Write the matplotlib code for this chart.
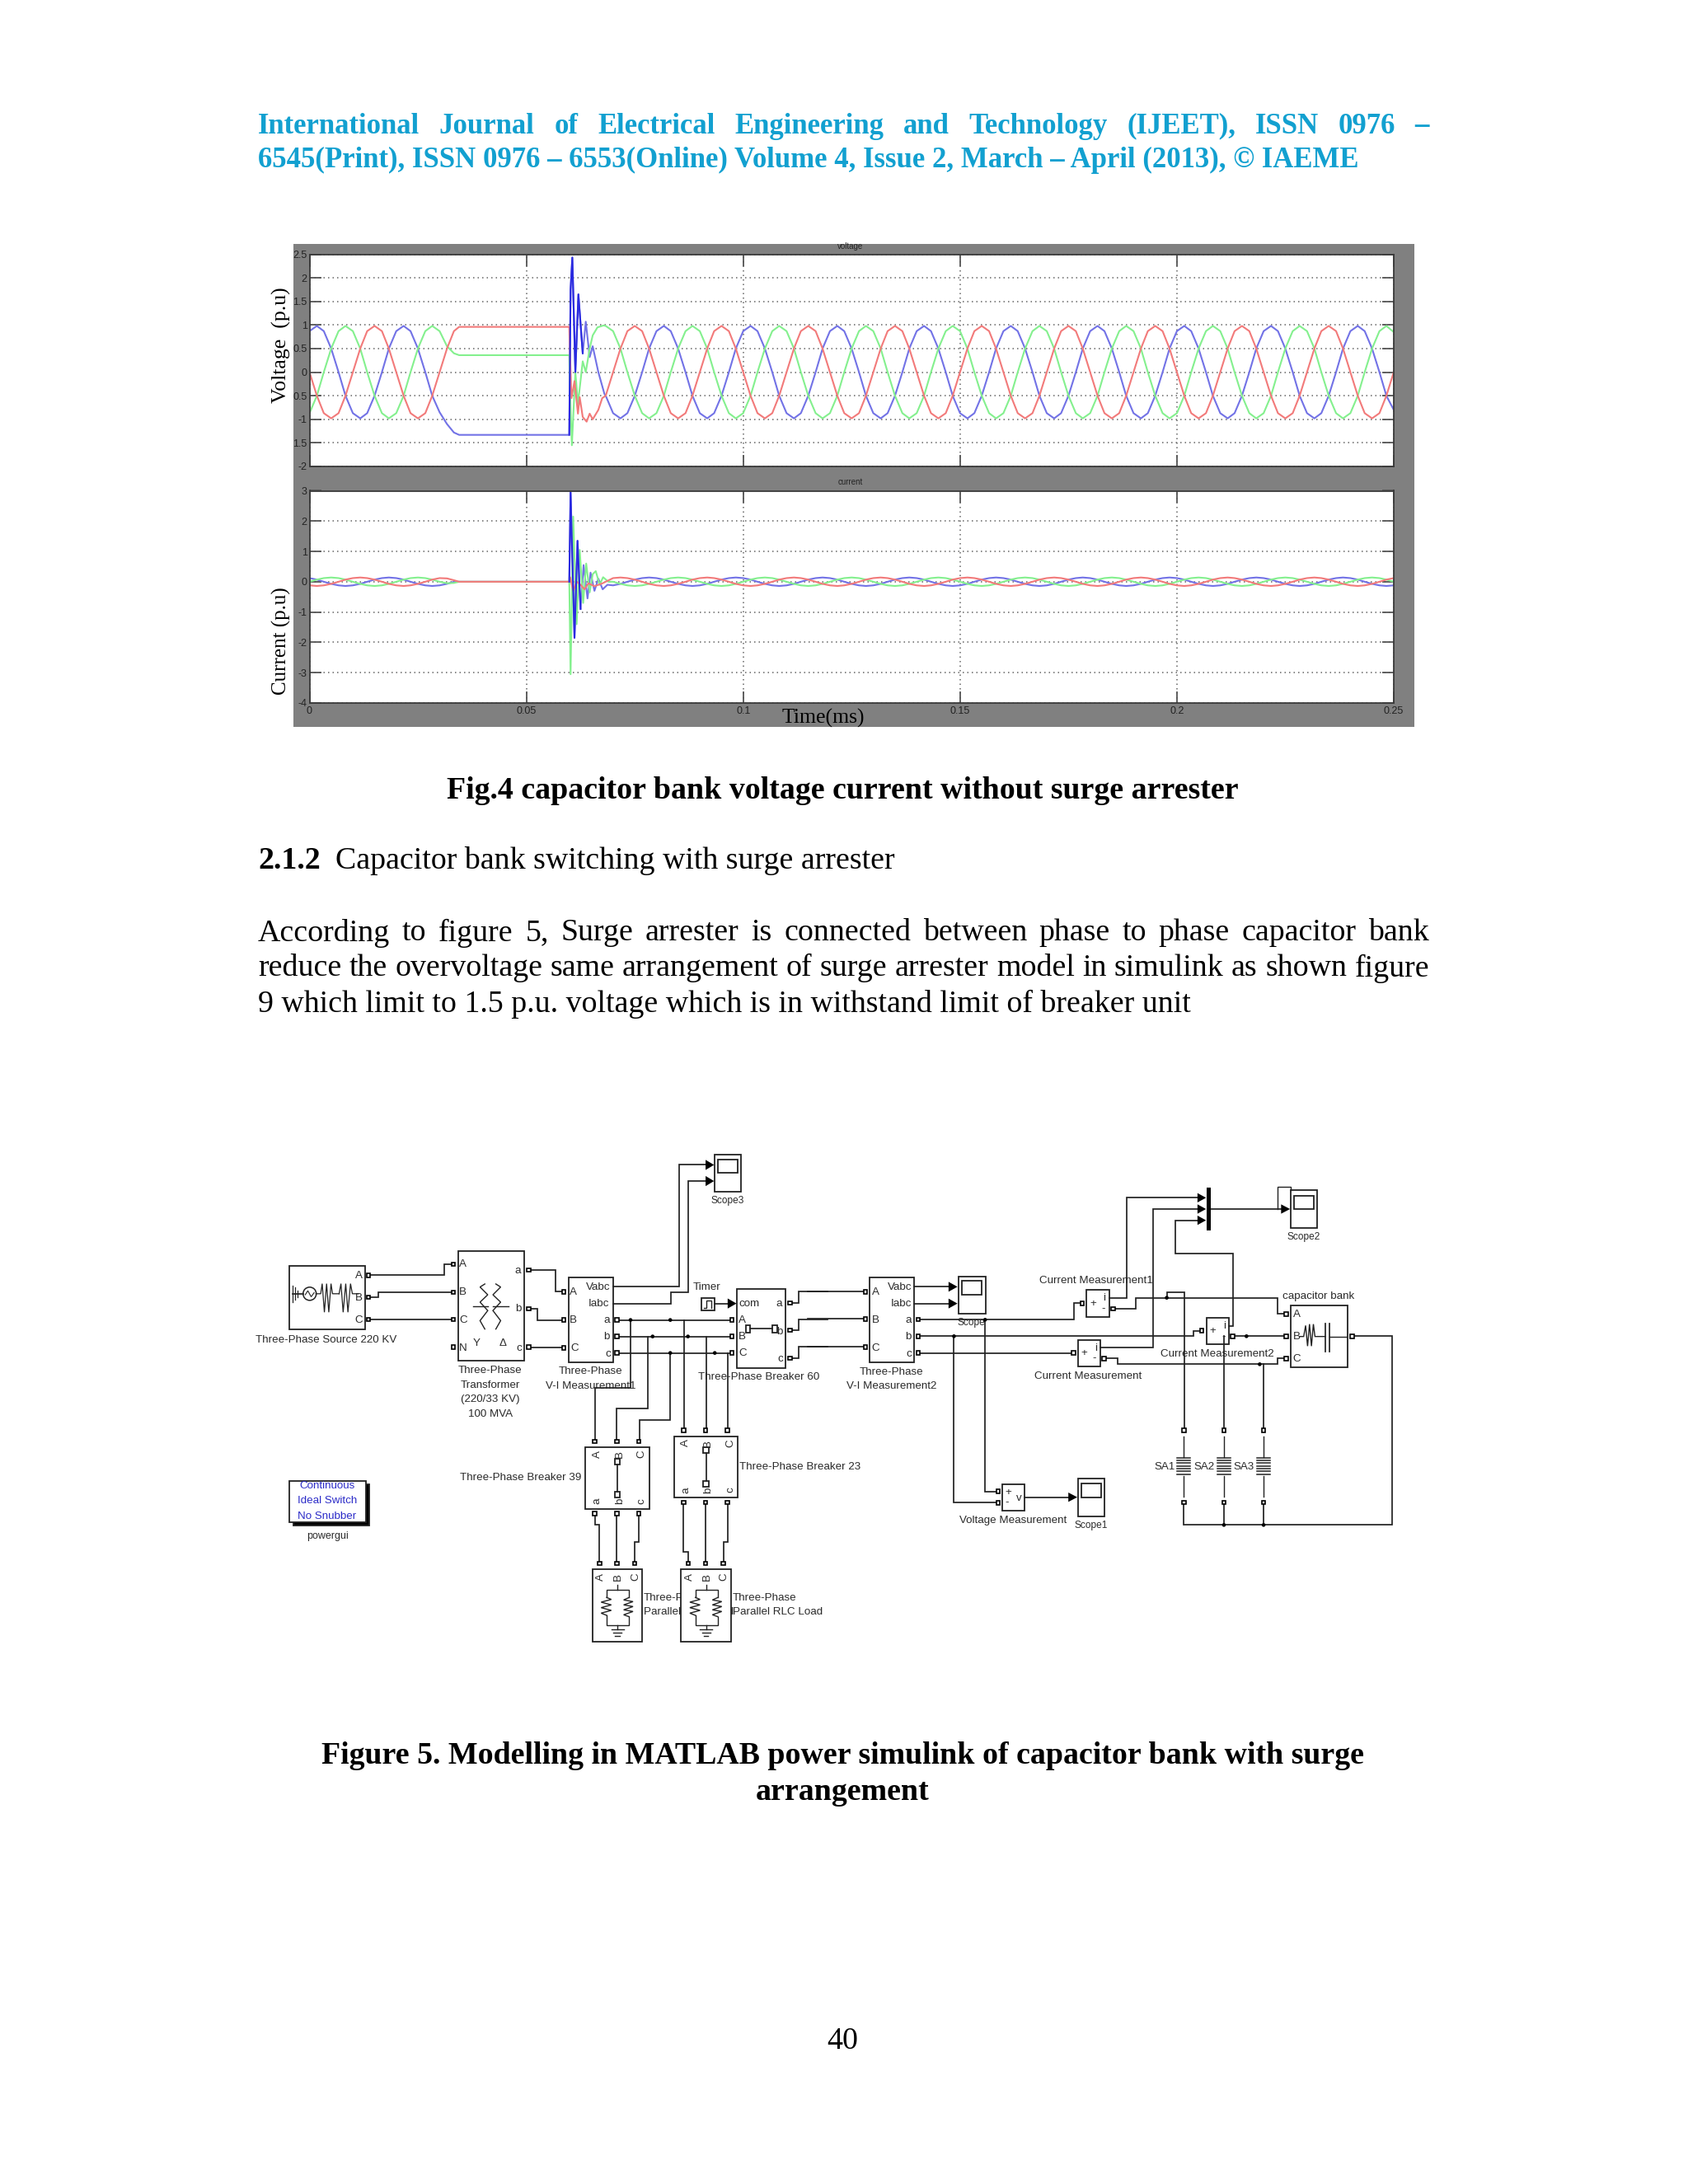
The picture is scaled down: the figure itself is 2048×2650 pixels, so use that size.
#!/usr/bin/env python3
"""Journal page: capacitor bank scope traces and the Simulink model of Figure 5."""

import matplotlib

matplotlib.use("Agg")
import matplotlib.pyplot as plt
from matplotlib.patches import Circle, Polygon, Rectangle

W, H = 2048, 2650

# --- scope data ------------------------------------------------------------
x_ticks = [0, 0.05, 0.1, 0.15, 0.2, 0.25]
x_tick_labels = ["0", "0.05", "0.1", "0.15", "0.2", "0.25"]
v_ticks = [2.5, 2, 1.5, 1, 0.5, 0, -0.5, -1, -1.5, -2]
v_tick_labels = ["2.5", "2", "1.5", "1", "0.5", "0", "0.5", "-1", "1.5", "-2"]
i_ticks = [3, 2, 1, 0, -1, -2, -3, -4]
i_tick_labels = ["3", "2", "1", "0", "-1", "-2", "-3", "-4"]

t_pre = [0, 0.0017, 0.0033, 0.005, 0.0067, 0.0083, 0.01, 0.0117, 0.0133, 0.015, 0.0167,
         0.0183, 0.02, 0.0217, 0.0233, 0.025, 0.0267, 0.0283, 0.03, 0.0317, 0.0333, 0.0345]
v_blue_pre = [0.87, 0.98, 0.87, 0.5, 0, -0.5, -0.87, -0.98, -0.87, -0.5, 0,
              0.5, 0.87, 0.98, 0.87, 0.5, 0, -0.5, -0.85, -1.1, -1.28, -1.33]
v_green_pre = [-0.87, -0.5, 0, 0.5, 0.87, 0.98, 0.87, 0.5, 0, -0.5, -0.87,
               -0.98, -0.87, -0.5, 0, 0.5, 0.87, 0.98, 0.87, 0.55, 0.4, 0.36]
v_red_pre = [0, -0.5, -0.87, -0.98, -0.87, -0.5, 0, 0.5, 0.87, 0.98, 0.87,
             0.5, 0, -0.5, -0.87, -0.98, -0.87, -0.5, 0, 0.5, 0.87, 0.96]
i_blue_pre = [0.12, 0.07, 0, -0.07, -0.12, -0.14, -0.12, -0.07, 0, 0.07, 0.12,
              0.14, 0.12, 0.07, 0, -0.07, -0.12, -0.14, -0.12, -0.07, 0, 0]
i_green_pre = [0, 0.07, 0.12, 0.14, 0.12, 0.07, 0, -0.07, -0.12, -0.14, -0.12,
               -0.07, 0, 0.07, 0.12, 0.14, 0.12, 0.07, 0, -0.05, -0.04, 0]
i_red_pre = [-0.12, -0.14, -0.12, -0.07, 0, 0.07, 0.12, 0.14, 0.12, 0.07, 0,
             -0.07, -0.12, -0.14, -0.12, -0.07, 0, 0.07, 0.12, 0.11, 0.05, 0]

# switching transient, each phase read on its own times
tv_blue = [0.0599, 0.0602, 0.0606, 0.0613, 0.062, 0.063, 0.0637, 0.0646, 0.0653, 0.0666, 0.068]
v_blue = [-1.33, 1.75, 2.43, 0, 1.65, 0.4, 1.07, 0.32, 0.55, 0, -0.46]
tv_green = [0.0599, 0.0601, 0.0605, 0.0613, 0.0619, 0.063, 0.0637, 0.0646, 0.0653, 0.0664, 0.0678]
v_green = [0.36, -0.5, -1.55, 0, -0.67, 0.23, 0, 0.5, 0.78, 0.95, 0.99]
tv_red = [0.0599, 0.0601, 0.0604, 0.0611, 0.0619, 0.0623, 0.063, 0.0639, 0.0646, 0.0653, 0.0666, 0.0675]
v_red = [0.96, 0.3, -0.55, -0.19, -0.88, -0.53, -0.95, -1.05, -0.88, -1.0, -0.8, -0.55]

ti_blue = [0.0599, 0.0602, 0.0611, 0.0618, 0.0625, 0.0632, 0.0641, 0.0648, 0.0657, 0.0666, 0.0676, 0.0687]
i_blue = [0, 2.95, -1.85, 1.35, -0.9, 0.55, -0.55, 0.3, -0.3, 0.1, -0.25, -0.1]
ti_green = [0.0599, 0.0602, 0.0608, 0.0616, 0.0623, 0.0631, 0.0638, 0.0646, 0.0653, 0.066, 0.0669, 0.0677, 0.0689]
i_green = [0, -3.05, 2.15, -1.4, 1.05, -0.7, 0.6, -0.35, 0.25, 0.35, -0.1, 0.15, 0]
ti_red = [0.0599, 0.0601, 0.0608, 0.0616, 0.0625, 0.0634, 0.0643, 0.0657, 0.0676]
i_red = [0, 0.15, -0.3, 0, -0.1, -0.25, -0.05, -0.15, -0.05]

t_post = [0.0683, 0.07, 0.0717, 0.0733, 0.075, 0.0767, 0.0783,
          0.08, 0.0817, 0.0833, 0.085, 0.0867, 0.0883, 0.09, 0.0917, 0.0933, 0.095, 0.0967, 0.0983,
          0.1, 0.1017, 0.1033, 0.105, 0.1067, 0.1083, 0.11, 0.1117, 0.1133, 0.115, 0.1167, 0.1183,
          0.12, 0.1217, 0.1233, 0.125, 0.1267, 0.1283, 0.13, 0.1317, 0.1333, 0.135, 0.1367, 0.1383,
          0.14, 0.1417, 0.1433, 0.145, 0.1467, 0.1483, 0.15, 0.1517, 0.1533, 0.155, 0.1567, 0.1583,
          0.16, 0.1617, 0.1633, 0.165, 0.1667, 0.1683, 0.17, 0.1717, 0.1733, 0.175, 0.1767, 0.1783,
          0.18, 0.1817, 0.1833, 0.185, 0.1867, 0.1883, 0.19, 0.1917, 0.1933, 0.195, 0.1967, 0.1983,
          0.2, 0.2017, 0.2033, 0.205, 0.2067, 0.2083, 0.21, 0.2117, 0.2133, 0.215, 0.2167, 0.2183,
          0.22, 0.2217, 0.2233, 0.225, 0.2267, 0.2283, 0.23, 0.2317, 0.2333, 0.235, 0.2367, 0.2383,
          0.24, 0.2417, 0.2433, 0.245, 0.2467, 0.2483, 0.25]
v_blue_post = [-0.5, -0.87, -0.98, -0.87, -0.5, 0, 0.5,
               0.87, 0.98, 0.87, 0.5, 0, -0.5, -0.87, -0.98, -0.87, -0.5, 0, 0.5,
               0.87, 0.98, 0.87, 0.5, 0, -0.5, -0.87, -0.98, -0.87, -0.5, 0, 0.5,
               0.87, 0.98, 0.87, 0.5, 0, -0.5, -0.87, -0.98, -0.87, -0.5, 0, 0.5,
               0.87, 0.98, 0.87, 0.5, 0, -0.5, -0.87, -0.98, -0.87, -0.5, 0, 0.5,
               0.87, 0.98, 0.87, 0.5, 0, -0.5, -0.87, -0.98, -0.87, -0.5, 0, 0.5,
               0.87, 0.98, 0.87, 0.5, 0, -0.5, -0.87, -0.98, -0.87, -0.5, 0, 0.5,
               0.87, 0.98, 0.87, 0.5, 0, -0.5, -0.87, -0.98, -0.87, -0.5, 0, 0.5,
               0.87, 0.98, 0.87, 0.5, 0, -0.5, -0.87, -0.98, -0.87, -0.5, 0, 0.5,
               0.87, 0.98, 0.87, 0.5, 0, -0.5, -0.8]
v_green_post = [0.98, 0.87, 0.5, 0, -0.5, -0.87, -0.98,
                -0.87, -0.5, 0, 0.5, 0.87, 0.98, 0.87, 0.5, 0, -0.5, -0.87, -0.98,
                -0.87, -0.5, 0, 0.5, 0.87, 0.98, 0.87, 0.5, 0, -0.5, -0.87, -0.98,
                -0.87, -0.5, 0, 0.5, 0.87, 0.98, 0.87, 0.5, 0, -0.5, -0.87, -0.98,
                -0.87, -0.5, 0, 0.5, 0.87, 0.98, 0.87, 0.5, 0, -0.5, -0.87, -0.98,
                -0.87, -0.5, 0, 0.5, 0.87, 0.98, 0.87, 0.5, 0, -0.5, -0.87, -0.98,
                -0.87, -0.5, 0, 0.5, 0.87, 0.98, 0.87, 0.5, 0, -0.5, -0.87, -0.98,
                -0.87, -0.5, 0, 0.5, 0.87, 0.98, 0.87, 0.5, 0, -0.5, -0.87, -0.98,
                -0.87, -0.5, 0, 0.5, 0.87, 0.98, 0.87, 0.5, 0, -0.5, -0.87, -0.98,
                -0.87, -0.5, 0, 0.5, 0.87, 0.98, 0.85]
v_red_post = [-0.5, 0, 0.5, 0.87, 0.98, 0.87, 0.5,
              0, -0.5, -0.87, -0.98, -0.87, -0.5, 0, 0.5, 0.87, 0.98, 0.87, 0.5,
              0, -0.5, -0.87, -0.98, -0.87, -0.5, 0, 0.5, 0.87, 0.98, 0.87, 0.5,
              0, -0.5, -0.87, -0.98, -0.87, -0.5, 0, 0.5, 0.87, 0.98, 0.87, 0.5,
              0, -0.5, -0.87, -0.98, -0.87, -0.5, 0, 0.5, 0.87, 0.98, 0.87, 0.5,
              0, -0.5, -0.87, -0.98, -0.87, -0.5, 0, 0.5, 0.87, 0.98, 0.87, 0.5,
              0, -0.5, -0.87, -0.98, -0.87, -0.5, 0, 0.5, 0.87, 0.98, 0.87, 0.5,
              0, -0.5, -0.87, -0.98, -0.87, -0.5, 0, 0.5, 0.87, 0.98, 0.87, 0.5,
              0, -0.5, -0.87, -0.98, -0.87, -0.5, 0, 0.5, 0.87, 0.98, 0.87, 0.5,
              0, -0.5, -0.87, -0.98, -0.87, -0.5, 0]
i_blue_post = [-0.12, -0.07, 0, 0.07, 0.12, 0.14,
               0.12, 0.07, 0, -0.07, -0.12, -0.14, -0.12, -0.07, 0, 0.07, 0.12, 0.14,
               0.12, 0.07, 0, -0.07, -0.12, -0.14, -0.12, -0.07, 0, 0.07, 0.12, 0.14,
               0.12, 0.07, 0, -0.07, -0.12, -0.14, -0.12, -0.07, 0, 0.07, 0.12, 0.14,
               0.12, 0.07, 0, -0.07, -0.12, -0.14, -0.12, -0.07, 0, 0.07, 0.12, 0.14,
               0.12, 0.07, 0, -0.07, -0.12, -0.14, -0.12, -0.07, 0, 0.07, 0.12, 0.14,
               0.12, 0.07, 0, -0.07, -0.12, -0.14, -0.12, -0.07, 0, 0.07, 0.12, 0.14,
               0.12, 0.07, 0, -0.07, -0.12, -0.14, -0.12, -0.07, 0, 0.07, 0.12, 0.14,
               0.12, 0.07, 0, -0.07, -0.12, -0.14, -0.12, -0.07, 0, 0.07, 0.12, 0.14,
               0.12, 0.07, 0, -0.07, -0.12, -0.14, -0.12]
i_green_post = [0, -0.07, -0.12, -0.14, -0.12, -0.07,
                0, 0.07, 0.12, 0.14, 0.12, 0.07, 0, -0.07, -0.12, -0.14, -0.12, -0.07,
                0, 0.07, 0.12, 0.14, 0.12, 0.07, 0, -0.07, -0.12, -0.14, -0.12, -0.07,
                0, 0.07, 0.12, 0.14, 0.12, 0.07, 0, -0.07, -0.12, -0.14, -0.12, -0.07,
                0, 0.07, 0.12, 0.14, 0.12, 0.07, 0, -0.07, -0.12, -0.14, -0.12, -0.07,
                0, 0.07, 0.12, 0.14, 0.12, 0.07, 0, -0.07, -0.12, -0.14, -0.12, -0.07,
                0, 0.07, 0.12, 0.14, 0.12, 0.07, 0, -0.07, -0.12, -0.14, -0.12, -0.07,
                0, 0.07, 0.12, 0.14, 0.12, 0.07, 0, -0.07, -0.12, -0.14, -0.12, -0.07,
                0, 0.07, 0.12, 0.14, 0.12, 0.07, 0, -0.07, -0.12, -0.14, -0.12, -0.07,
                0, 0.07, 0.12, 0.14, 0.12, 0.07, 0]
i_red_post = [0.12, 0.14, 0.12, 0.07, 0, -0.07,
              -0.12, -0.14, -0.12, -0.07, 0, 0.07, 0.12, 0.14, 0.12, 0.07, 0, -0.07,
              -0.12, -0.14, -0.12, -0.07, 0, 0.07, 0.12, 0.14, 0.12, 0.07, 0, -0.07,
              -0.12, -0.14, -0.12, -0.07, 0, 0.07, 0.12, 0.14, 0.12, 0.07, 0, -0.07,
              -0.12, -0.14, -0.12, -0.07, 0, 0.07, 0.12, 0.14, 0.12, 0.07, 0, -0.07,
              -0.12, -0.14, -0.12, -0.07, 0, 0.07, 0.12, 0.14, 0.12, 0.07, 0, -0.07,
              -0.12, -0.14, -0.12, -0.07, 0, 0.07, 0.12, 0.14, 0.12, 0.07, 0, -0.07,
              -0.12, -0.14, -0.12, -0.07, 0, 0.07, 0.12, 0.14, 0.12, 0.07, 0, -0.07,
              -0.12, -0.14, -0.12, -0.07, 0, 0.07, 0.12, 0.14, 0.12, 0.07, 0, -0.07,
              -0.12, -0.14, -0.12, -0.07, 0, 0.07, 0.12]

BLUE = "#7272e6"
GREEN = "#84f08e"
RED = "#f27a7a"
DARK_BLUE = "#2a2ae0"
SERIF = "Liberation Serif"
SANS = "Liberation Sans"
HEAD = "#12a0d0"
BODY = 27.25
HEADER = 25

fig = plt.figure(figsize=(W / 100, H / 100), dpi=100, facecolor="white")
page = fig.add_axes([0, 0, 1, 1], zorder=5)
page.set_xlim(0, W)
page.set_ylim(H, 0)
page.axis("off")
page.patch.set_alpha(0)

# grey scope window behind the two axes
bg = fig.add_axes([356 / W, 1 - 882 / H, (1716 - 356) / W, (882 - 296) / H], zorder=1)
bg.set_facecolor("#808080")
bg.set_xticks([])
bg.set_yticks([])
for s in bg.spines.values():
    s.set_visible(False)


def scope_axes(top, bottom, ylim, ticks, labels):
    ax = fig.add_axes([375.5 / W, 1 - bottom / H, (1691 - 375.5) / W, (bottom - top) / H], zorder=2)
    ax.set_xlim(0, 0.25)
    ax.set_ylim(*ylim)
    ax.set_yticks(ticks)
    ax.set_yticklabels(labels, fontsize=9, family=SANS, color="#222222")
    ax.set_xticks(x_ticks)
    ax.grid(True, ls=(0, (1, 2.6)), color="#666666", lw=1.1)
    ax.set_axisbelow(True)
    ax.tick_params(direction="in", length=10, width=1.3, color="#555555", top=True, right=True, pad=2)
    for s in ax.spines.values():
        s.set_color("#3a3a3a")
        s.set_linewidth(1.3)
    return ax


ax_v = scope_axes(308.5, 566, (-2, 2.5), v_ticks, v_tick_labels)
ax_v.set_xticklabels([])
ax_i = scope_axes(595.5, 853, (-4, 3), i_ticks, i_tick_labels)
ax_i.set_xticklabels(x_tick_labels, fontsize=9, family=SANS, color="#222222")
ax_i.tick_params(axis="x", pad=3)

ax_v.plot(t_pre + tv_blue + t_post, v_blue_pre + v_blue + v_blue_post, color=BLUE, lw=1.5)
ax_v.plot(t_pre + tv_green + t_post, v_green_pre + v_green + v_green_post, color=GREEN, lw=1.5)
ax_v.plot(t_pre + tv_red + t_post, v_red_pre + v_red + v_red_post, color=RED, lw=1.5)
ax_i.plot(t_pre + ti_blue + t_post[1:], i_blue_pre + i_blue + i_blue_post, color=BLUE, lw=1.5)
ax_i.plot(t_pre + ti_green + t_post[1:], i_green_pre + i_green + i_green_post, color=GREEN, lw=1.5)
ax_i.plot(t_pre + ti_red + t_post[1:], i_red_pre + i_red + i_red_post, color=RED, lw=1.5)
# the blue spike is much darker where the trace folds back on itself
ax_v.plot(tv_blue[:6], v_blue[:6], color=DARK_BLUE, lw=1.5)
ax_i.plot(ti_blue[:5], i_blue[:5], color=DARK_BLUE, lw=1.5)


def text(x, y, s, size=BODY, weight="normal", color="black", family=SERIF, ha="left", **kw):
    return page.text(x, y, s, fontsize=size, fontweight=weight, color=color, family=family,
                     ha=ha, va="center", **kw)


def justified(y, s, left=313, right=1734, **kw):
    # word by word, the gaps take up whatever the words leave free
    words = s.split()
    renderer = fig.canvas.get_renderer()
    items = [text(0, y, w, **kw) for w in words]
    widths = [t.get_window_extent(renderer).width for t in items]
    gap = (right - left - sum(widths)) / (len(words) - 1)
    x = left
    for item, width in zip(items, widths):
        item.set_x(x)
        x += width + gap


text(1032, 298.5, "voltage", size=7, family=SANS, color="#222222", ha="center")
text(1032, 585, "current", size=7, family=SANS, color="#222222", ha="center")
text(999, 871, "Time(ms)", size=18.5, ha="center")
text(341, 419, "Voltage  (p.u)", size=18.5, rotation=90, ha="center")
text(341, 778, "Current (p.u)", size=18, rotation=90, ha="center")

justified(153, "International Journal of Electrical Engineering and Technology (IJEET), ISSN 0976 –",
          size=HEADER, weight="bold", color=HEAD)
text(313, 194, "6545(Print), ISSN 0976 – 6553(Online) Volume 4, Issue 2, March – April (2013), © IAEME",
     size=HEADER, weight="bold", color=HEAD)
text(1022.5, 959.5, "Fig.4 capacitor bank voltage current without surge arrester", weight="bold", ha="center")
text(313, 1044, "2.1.2", weight="bold")
text(407, 1044, "Capacitor bank switching with surge arrester")
justified(1132, "According to figure 5, Surge arrester is connected between phase to phase capacitor bank")
justified(1175, "reduce the overvoltage same arrangement of surge arrester model in simulink as shown figure")
text(313, 1218, "9 which limit to 1.5 p.u. voltage which is in withstand limit of breaker unit")
text(1022.5, 2131, "Figure 5. Modelling in MATLAB power simulink of capacitor bank with surge", weight="bold", ha="center")
text(1022.5, 2175, "arrangement", weight="bold", ha="center")
text(1022.5, 2477, "40", ha="center")


# --- Simulink model: coordinates are page pixels ---------------------------
def z3(x, y):
    return 290 + x / 2.24, 1380 + y / 2.45


def z4(x, y):
    return 980 + x / 2.119, 1400 + y / 3


def z5(x, y):
    return 640 + x / 3, 1700 + y / 3


INK = "#222222"


def wire(z, pts, lw=1.25, zorder=3):
    xy = [z(*p) for p in pts]
    page.plot([p[0] for p in xy], [p[1] for p in xy], color=INK, lw=lw, zorder=zorder, solid_joinstyle="miter")


def box(z, x0, y0, x1, y1, lw=1.3, zorder=2, fill="none"):
    (a, b), (c, d) = z(x0, y0), z(x1, y1)
    page.add_patch(Rectangle((a, b), c - a, d - b, fc=fill, ec=INK, lw=lw, zorder=zorder))


def port(z, x, y):
    a, b = z(x, y)
    page.add_patch(Rectangle((a - 2.2, b - 2.2), 4.4, 4.4, fc="white", ec="black", lw=1.2, zorder=4))


def ports(z, pts):
    for x, y in pts:
        port(z, x, y)


def dot(z, x, y):
    a, b = z(x, y)
    page.add_patch(Circle((a, b), 2.3, fc="black", ec="none", zorder=4))


def arrow(z, x0, x1, y, half):
    page.add_patch(Polygon([z(x0, y - half), z(x1, y), z(x0, y + half)], fc="black", ec="none", zorder=4))


def label(z, x, y, s, size=9.6, ha="center", color="#2a2a2a", **kw):
    a, b = z(x, y)
    page.text(a, b, s, fontsize=size, family=SANS, color=color, ha=ha, va="center", **kw)


def scope(z, x0, y0, x1, y1, ix0, iy0, ix1, iy1):
    box(z, x0, y0, x1, y1)
    box(z, ix0, iy0, ix1, iy1)


# source and transformer
box(z3, 137, 381, 342, 572)
ports(z3, [(352, 410), (352, 476), (352, 542)])
for y, s in [(412, "A"), (478, "B"), (544, "C")]:
    label(z3, 325, y, s)
wire(z3, [(146, 465), (175, 465)])
for x, half in [(146, 25), (153, 18), (160, 10)]:
    wire(z3, [(x, 465 - half), (x, 465 + half)], lw=0.9)
cx, cy = z3(192, 465)
page.add_patch(Circle((cx, cy), 8, fc="none", ec=INK, lw=1.1))
wire(z3, [(180, 468), (187, 456), (196, 474), (204, 462)], lw=0.8)
wire(z3, [(209, 465), (222, 465), (226, 435), (232, 520), (238, 435), (244, 520), (250, 435), (254, 465), (272, 465)], lw=0.9)
wire(z3, [(272, 465), (277, 435), (283, 520), (290, 435), (296, 520), (303, 435), (308, 465), (325, 465)], lw=0.9)
label(z3, 237, 602, "Three-Phase Source 220 KV")

wire(z3, [(358, 410), (558, 410), (558, 377), (578, 377)])
wire(z3, [(358, 476), (378, 476), (378, 460), (578, 460)])
wire(z3, [(358, 542), (578, 542)])
box(z3, 595, 339, 775, 665)
ports(z3, [(582, 377), (582, 460), (582, 542), (582, 624), (787, 394), (787, 509), (787, 624)])
for x, y, s in [(609, 378, "A"), (609, 461, "B"), (609, 543, "C"), (609, 626, "N"),
                (758, 396, "a"), (758, 510, "b"), (760, 627, "c"), (646, 613, "Y"), (718, 613, "Δ")]:
    label(z3, x, y, s)
wire(z3, [(668, 436), (655, 445), (676, 468), (655, 490), (676, 515), (655, 545), (668, 570)], lw=1)
wire(z3, [(698, 436), (711, 445), (690, 468), (711, 490), (690, 515), (711, 545), (698, 570)], lw=1)
wire(z3, [(637, 503), (676, 503)], lw=1)
wire(z3, [(690, 503), (733, 503)], lw=1)
for y, s in [(694, "Three-Phase"), (737, "Transformer"), (780, "(220/33 KV)"), (822, "100 MVA")]:
    label(z3, 683, y, s)

# first V-I measurement
wire(z3, [(793, 394), (860, 394), (860, 459), (878, 459)])
wire(z3, [(793, 509), (811, 509), (811, 543), (878, 543)])
wire(z3, [(793, 624), (878, 624)])
box(z3, 895, 417, 1017, 668)
ports(z3, [(883, 459), (883, 543), (883, 626), (1027, 543), (1027, 592), (1027, 641)])
for x, y, s in [(909, 461, "A"), (909, 544, "B"), (911, 627, "C"), (977, 445, "Vabc"), (978, 494, "Iabc"),
                (999, 545, "a"), (999, 594, "b"), (1002, 645, "c")]:
    label(z3, x, y, s)
label(z3, 955, 697, "Three-Phase")
label(z3, 955, 740, "V-I Measurement1")

wire(z3, [(1017, 444), (1197, 444), (1197, 82), (1270, 82)])
wire(z3, [(1017, 494), (1173, 494), (1173, 460), (1221, 460), (1221, 130), (1270, 130)])
arrow(z3, 1268, 1291, 82, 15)
arrow(z3, 1268, 1291, 130, 15)
scope(z3, 1293, 52, 1365, 161, 1302, 65, 1356, 105)
label(z3, 1328, 188, "Scope3", size=8.6)

# timer and breaker 60
label(z3, 1271, 447, "Timer")
box(z3, 1257, 477, 1293, 514)
wire(z3, [(1263, 507), (1271, 507), (1271, 484), (1284, 484), (1284, 507)], lw=1)
wire(z3, [(1293, 494), (1330, 494)])
arrow(z3, 1328, 1352, 494, 15)
box(z3, 1353, 450, 1485, 685)
ports(z3, [(1340, 543), (1340, 592), (1340, 641), (1497, 492), (1497, 574), (1497, 656)])
for x, y, s in [(1386, 495, "com"), (1468, 496, "a"), (1368, 543, "A"), (1469, 578, "b"),
                (1368, 594, "B"), (1370, 642, "C"), (1471, 660, "c")]:
    label(z3, x, y, s)
box(z3, 1377, 558, 1389, 580)
box(z3, 1450, 558, 1462, 580)
wire(z3, [(1389, 569), (1450, 569)])
label(z3, 1248, 714, "Three-Phase Breaker 60", ha="left")

wire(z3, [(1033, 543), (1334, 543)])
wire(z3, [(1033, 592), (1334, 592)])
wire(z3, [(1033, 641), (1334, 641)])
for x, y in [(1064, 543), (1172, 543), (1124, 592), (1220, 592), (1172, 641), (1293, 641)]:
    dot(z3, x, y)
wire(z3, [(1064, 543), (1064, 745), (967, 745), (967, 898)])
wire(z3, [(1112, 592), (1112, 806), (1027, 806), (1027, 898)])
wire(z3, [(1172, 641), (1172, 840), (1088, 840), (1088, 898)])
wire(z3, [(1209, 543), (1209, 866)])
wire(z3, [(1269, 592), (1269, 866)])
wire(z3, [(1329, 641), (1329, 866)])
wire(z3, [(1503, 492), (1522, 492), (1522, 459), (1600, 459)])
wire(z3, [(1503, 574), (1522, 574), (1522, 541), (1600, 541)])
wire(z3, [(1503, 656), (1522, 656), (1522, 623), (1600, 623)])


# breakers 39 and 23
def breaker(z, dx, dy):
    box(z, 210 + dx, 168 + dy, 443 + dx, 392 + dy)
    for x, s in [(254, "A"), (335, "B"), (415, "C")]:
        label(z, x + dx, 193 + dy, s, size=9.6, rotation=90)
    for x, s in [(254, "a"), (335, "b"), (415, "c")]:
        label(z, x + dx, 364 + dy, s, size=9.6, rotation=90)
    box(z, 317 + dx, 209 + dy, 337 + dx, 230 + dy)
    box(z, 317 + dx, 330 + dy, 337 + dx, 351 + dy)
    wire(z, [(327 + dx, 230 + dy), (327 + dx, 330 + dy)])
    ports(z, [(245 + dx, 147 + dy), (325 + dx, 147 + dy), (405 + dx, 147 + dy),
              (245 + dx, 409 + dy), (325 + dx, 409 + dy), (405 + dx, 409 + dy)])


breaker(z5, 0, 0)
breaker(z5, 323, -40)
label(z3, 600, 1013, "Three-Phase Breaker 39", ha="left")
label(z5, 770, 240, "Three-Phase Breaker 23", ha="left")

wire(z5, [(245, 417), (245, 450), (262, 450), (262, 584)])
wire(z5, [(325, 417), (325, 584)])
wire(z5, [(405, 417), (405, 512), (390, 512), (390, 584)])
wire(z5, [(568, 377), (568, 550), (584, 550), (584, 584)])
wire(z5, [(648, 377), (648, 584)])
wire(z5, [(729, 377), (729, 512), (713, 512), (713, 584)])


# RLC loads
def load(z, dx):
    box(z, 236 + dx, 612, 418 + dx, 876, zorder=3, fill="white")
    for x, s in [(267, "A"), (330, "B"), (393, "C")]:
        label(z, x + dx, 640, s, size=9.6, rotation=90, zorder=4)
    ports(z, [(262 + dx, 591), (325 + dx, 591), (390 + dx, 591)])
    wire(z, [(288 + dx, 715), (288 + dx, 688), (370 + dx, 688), (370 + dx, 715)], lw=1, zorder=4)
    wire(z, [(288 + dx, 780), (288 + dx, 815), (370 + dx, 815), (370 + dx, 785)], lw=1, zorder=4)
    wire(z, [(327 + dx, 670), (327 + dx, 688)], lw=1, zorder=4)
    wire(z, [(327 + dx, 815), (327 + dx, 830)], lw=1, zorder=4)
    wire(z, [(288 + dx, 715), (305 + dx, 722), (268 + dx, 732), (305 + dx, 742), (268 + dx, 752),
             (305 + dx, 762), (268 + dx, 772), (288 + dx, 780)], lw=1, zorder=4)
    wire(z, [(370 + dx, 715), (350 + dx, 724), (384 + dx, 730), (350 + dx, 742), (384 + dx, 748),
             (350 + dx, 760), (384 + dx, 766), (350 + dx, 778), (370 + dx, 785)], lw=1, zorder=4)
    for y, a, b in [(830, 305, 350), (842, 312, 343), (855, 318, 335)]:
        wire(z, [(a + dx, y), (b + dx, y)], lw=1, zorder=4)


label(z5, 423, 716, "Three-Phase", ha="left")
label(z5, 423, 768, "Parallel RLC Load", ha="left")
load(z5, 0)
load(z5, 323)
label(z5, 746, 716, "Three-Phase", ha="left")
label(z5, 746, 768, "Parallel RLC Load", ha="left")

# powergui
box(z3, 147, 1031, 353, 1154, zorder=2, fill="black")
box(z3, 137, 1021, 345, 1143, zorder=3, fill="white")
for y, s in [(1036, "Continuous"), (1080, "Ideal Switch"), (1126, "No Snubber")]:
    label(z3, 239, y, s, color="#2c2cc8", zorder=4)
label(z3, 241, 1186, "powergui", size=9)

# second V-I measurement
box(z4, 159, 451, 273, 759)
ports(z4, [(148, 502), (148, 601), (148, 703), (284, 603), (284, 664), (284, 724)])
wire(z4, [(0, 502), (142, 502)])
wire(z4, [(0, 601), (142, 601)])
wire(z4, [(0, 703), (142, 703)])
for x, y, s in [(174, 505, "A"), (174, 605, "B"), (175, 707, "C"), (237, 485, "Vabc"), (240, 546, "Iabc"),
                (258, 607, "a"), (258, 667, "b"), (261, 729, "c")]:
    label(z4, x, y, s)
label(z4, 215, 794, "Three-Phase")
label(z4, 215, 847, "V-I Measurement2")
wire(z4, [(273, 484), (365, 484)])
wire(z4, [(273, 545), (365, 545)])
arrow(z4, 362, 385, 484, 18)
arrow(z4, 362, 385, 545, 18)
scope(z4, 388, 447, 457, 581, 396, 463, 447, 513)
label(z4, 420, 616, "Scope", size=8.6)

wire(z4, [(290, 604), (684, 604), (684, 544), (700, 544)])
wire(z4, [(290, 664), (992, 664), (992, 644), (1007, 644)])
wire(z4, [(290, 725), (677, 725)])
dot(z4, 456, 604)
dot(z4, 376, 664)
wire(z4, [(456, 604), (456, 1229), (483, 1229)])
wire(z4, [(376, 664), (376, 1270), (483, 1270)])
ports(z4, [(489, 1229), (489, 1270), (706, 544), (785, 564), (683, 725), (762, 745), (1013, 644), (1092, 664),
           (1230, 583), (1230, 664), (1230, 745), (1400, 664)])


# current and voltage sensors
def sensor(z, x0, y0, x1, y1, plus, minus, sym, s):
    box(z, x0, y0, x1, y1, zorder=3, fill="white")
    label(z, plus[0], plus[1], "+", zorder=4)
    label(z, minus[0], minus[1], "-", zorder=4)
    label(z, sym[0], sym[1], s, zorder=4)


sensor(z4, 717, 495, 775, 593, (733, 545), (760, 565), (763, 525), "i")
sensor(z4, 695, 677, 752, 775, (710, 727), (737, 745), (741, 707), "i")
sensor(z4, 1025, 596, 1083, 694, (1041, 645), (1070, 665), (1071, 627), "i")
sensor(z4, 501, 1202, 558, 1300, (516, 1232), (512, 1270), (543, 1253), "v")
label(z4, 742, 463, "Current Measurement1")
label(z4, 720, 810, "Current Measurement")
label(z4, 1052, 729, "Current Measurement2")
label(z4, 527, 1335, "Voltage Measurement")

wire(z4, [(775, 525), (820, 525), (820, 160), (1003, 160)])
wire(z4, [(752, 706), (888, 706), (888, 201), (1003, 201)])
wire(z4, [(1083, 626), (1093, 626), (1093, 363), (945, 363), (945, 242), (1003, 242)])
for y in (160, 201, 242):
    arrow(z4, 1002, 1024, y, 17)
page.add_patch(Rectangle(z4(1025, 124), 11 / 2.119, 155 / 3, fc="black", ec="none", zorder=4))
wire(z4, [(1036, 201), (1220, 201)])
arrow(z4, 1217, 1240, 201, 17)
wire(z4, [(1207, 201), (1207, 120), (1242, 120), (1242, 132)], lw=1)
scope(z4, 1242, 132, 1310, 271, 1250, 152, 1301, 202)
label(z4, 1274, 304, "Scope2", size=8.6)

wire(z4, [(791, 564), (843, 564), (843, 524), (1207, 524), (1207, 583), (1224, 583)])
wire(z4, [(768, 745), (797, 745), (797, 766), (1207, 766), (1207, 745), (1224, 745)])
wire(z4, [(1098, 664), (1224, 664)])
dot(z4, 923, 524)
dot(z4, 1128, 664)
dot(z4, 1162, 766)
wire(z4, [(923, 524), (923, 504), (968, 504), (968, 1000)])
wire(z4, [(1070, 664), (1070, 1000)])
wire(z4, [(1172, 766), (1172, 1000)])

# capacitor bank
box(z4, 1242, 552, 1389, 778)
for y, s in [(585, "A"), (665, "B"), (746, "C")]:
    label(z4, 1258, y, s)
label(z4, 1314, 520, "capacitor bank")
wire(z4, [(1265, 665), (1275, 665), (1280, 625), (1285, 700), (1290, 620), (1295, 700), (1300, 620), (1304, 665), (1331, 665)], lw=1)
wire(z4, [(1331, 617), (1331, 720)])
wire(z4, [(1341, 617), (1341, 720)])
wire(z4, [(1341, 665), (1385, 665)], lw=1)
wire(z4, [(1406, 664), (1503, 664), (1503, 1351), (968, 1351)])
dot(z4, 1070, 1351)
dot(z4, 1172, 1351)

# surge arresters
for x, s in [(967, "SA1"), (1070, "SA2"), (1172, "SA3")]:
    ports(z4, [(x, 1007), (x, 1269)])
    wire(z4, [(x, 1030), (x, 1103)], lw=1)
    for y in (1106, 1116, 1126, 1136, 1146, 1156, 1166):
        wire(z4, [(x - 17, y), (x + 17, y)], lw=1.1)
    wire(z4, [(x, 1172), (x, 1248)], lw=1)
    wire(z4, [(x, 1275), (x, 1351)])
    label(z4, x - 50, 1140, s)

wire(z4, [(558, 1250), (672, 1250)])
arrow(z4, 670, 693, 1250, 17)
scope(z4, 695, 1182, 763, 1320, 703, 1200, 755, 1252)
label(z4, 728, 1354, "Scope1", size=8.6)

fig.savefig("out.png", dpi=100)
